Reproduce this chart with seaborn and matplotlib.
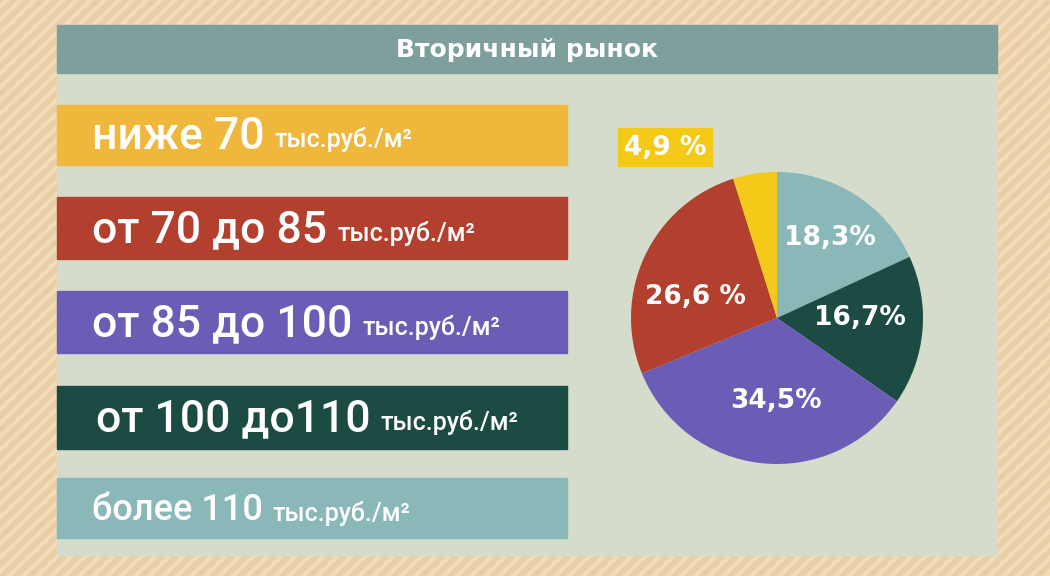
import matplotlib
matplotlib.use("Agg")
import matplotlib.pyplot as plt
import seaborn as sns
from matplotlib.patches import Rectangle

title = "Вторичный рынок"
ranges = ["ниже 70", "от 70 до 85", "от 85 до 100", "от 100 до110", "более 110"]
unit = "тыс.руб./м²"
range_sizes = [32, 32, 32, 32, 26]
colors = ["#efb83c", "#b3402f", "#6b5db5", "#1b4b42", "#8ab7b8"]

# pie order (clockwise from top)
pie_labels = ["18,3%", "16,7%", "34,5%", "26,6 %", "4,9 %"]
pie_values = [18.3, 16.7, 34.5, 26.6, 4.9]
pie_colors = ["#8ab7b8", "#1b4b42", "#6b5db5", "#b3402f", "#f5c918"]

sns.set_theme(style="white")
plt.rcParams["font.family"] = ["Roboto", "DejaVu Sans"]

W, H = 1050, 576
fig = plt.figure(figsize=(10.5, 5.76), dpi=100)
fig.patch.set_facecolor("#f2dcb9")

bg = fig.add_axes([0, 0, 1, 1])
bg.set_xlim(0, W)
bg.set_ylim(H, 0)
bg.axis("off")
for x0 in range(-600, W + 20, 14):
    bg.plot([x0, x0 + 600], [H, 0], color="#e8cfa6", lw=4, zorder=0)
bg.add_patch(Rectangle((57, 25), 940, 530, color="#d6dccb", zorder=1))
bg.add_patch(Rectangle((57, 25), 940, 48, color="#7e9f9b", zorder=2))
bg.text(527, 50, title, color="white", fontsize=18, fontweight="bold",
        family=["DejaVu Sans"], ha="center", va="center", zorder=3)

tops = [105, 197, 291, 386, 478]
heights = [60, 62, 62, 63, 60]
for i, (lab, c) in enumerate(zip(ranges, colors)):
    bg.add_patch(Rectangle((57, tops[i]), 510, heights[i], color=c, zorder=2))
    t = bg.text(92 if i != 3 else 96, tops[i] + heights[i] / 2 + 2, lab,
                color="white", fontsize=range_sizes[i], fontweight="medium",
                ha="left", va="center", zorder=3)
    fig.canvas.draw()
    bb = t.get_window_extent()
    bg.text(bb.x1 + 10, tops[i] + heights[i] / 2 + 5, unit, color="white",
            fontsize=18, fontweight="medium", ha="left", va="center", zorder=3)

cx, cy, r = 777, 318, 146
bg.pie(pie_values, colors=pie_colors, startangle=-90, counterclock=True,
       center=(cx, cy), radius=r, frame=True, wedgeprops=dict(linewidth=0, zorder=3))
bg.set_xlim(0, W)
bg.set_ylim(H, 0)
bg.set_aspect("auto")
bg.axis("off")

pos = [(830, 238), (860, 318), (776, 401), (695, 297)]
for (x, y), lab in zip(pos, pie_labels[:4]):
    bg.text(x, y, lab, color="white", fontsize=19, fontweight="bold",
            family=["DejaVu Sans"], ha="center", va="center", zorder=5)
bg.add_patch(Rectangle((618, 128), 94, 38, color="#f5c918", zorder=4))
bg.text(665, 148, pie_labels[4], color="white", fontsize=19, fontweight="bold",
        family=["DejaVu Sans"], ha="center", va="center", zorder=5)

fig.savefig("out.png", dpi=100)
